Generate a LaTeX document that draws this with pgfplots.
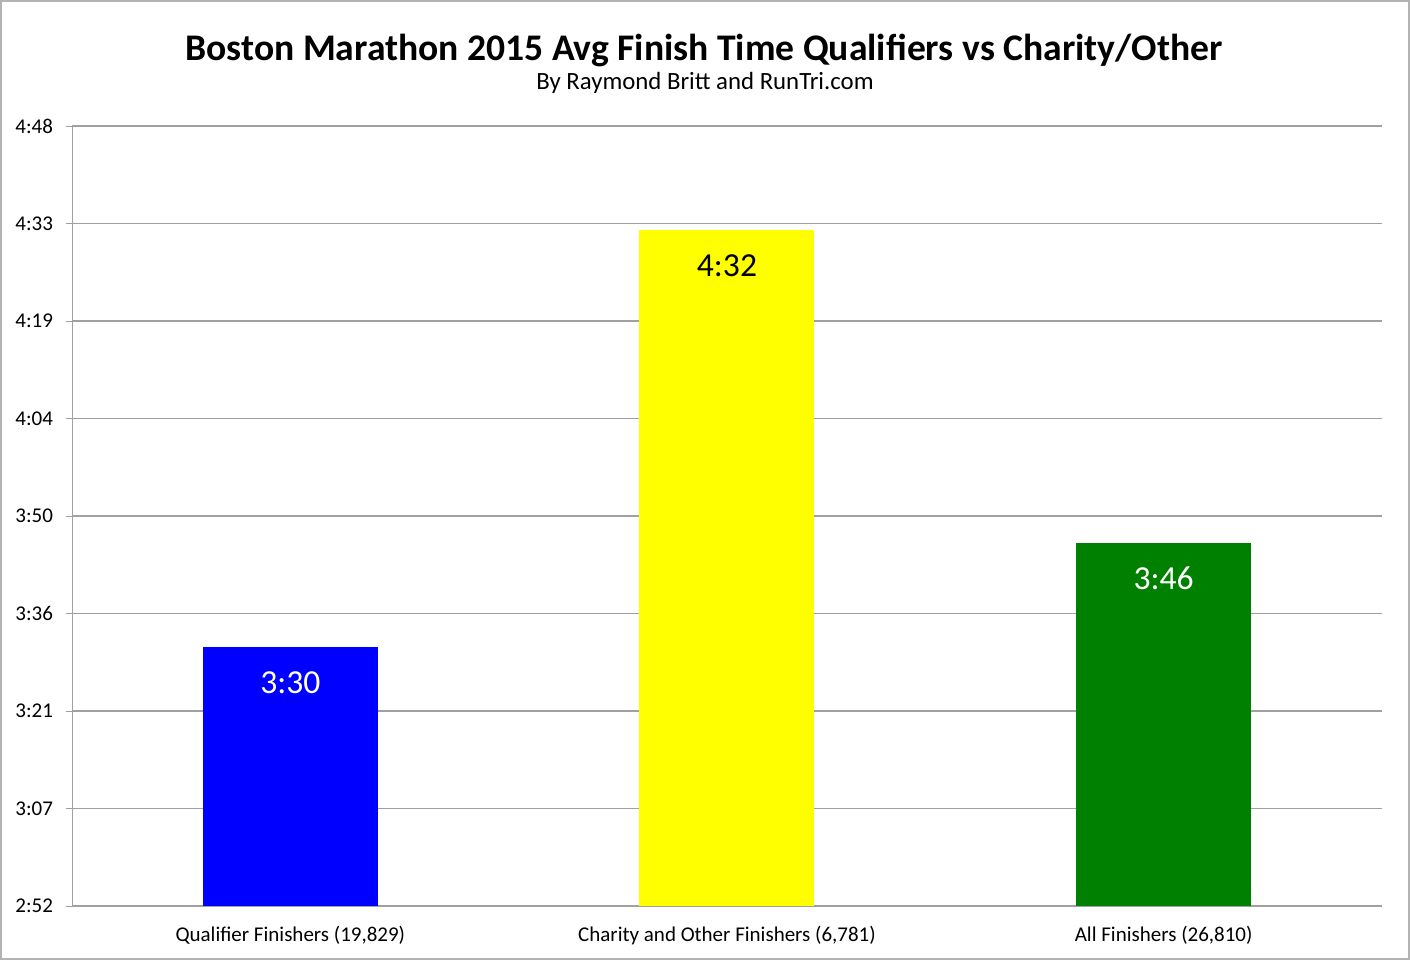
\documentclass[border=0pt]{standalone}
\usepackage{fontspec}
\setmainfont{Carlito}
\usepackage{pgfplots}
\pgfplotsset{compat=1.18}

\definecolor{gridgray}{RGB}{160,160,160}
\definecolor{xlblue}{RGB}{0,0,255}
\definecolor{xlyellow}{RGB}{255,255,0}
\definecolor{xlgreen}{RGB}{0,128,0}

\begin{document}
\begin{tikzpicture}
\useasboundingbox (0,0) rectangle (705pt,480pt);
\draw[gridgray!80, line width=1pt] (0.5pt,0.5pt) rectangle (704.5pt,479.5pt);

\node[font=\fontsize{18.8}{22}\selectfont\bfseries] at (352pt,455pt)
  {Boston Marathon 2015 Avg Finish Time Qualifiers vs Charity/Other};
\node[font=\fontsize{12.4}{14}\selectfont] at (352.5pt,438.5pt)
  {By Raymond Britt and RunTri.com};

\begin{axis}[
    at={(36pt,27pt)}, anchor=south west,
    scale only axis,
    width=655pt, height=390pt,
    xmin=-0.5, xmax=2.5,
    ymin=172.8, ymax=288,
    ybar, bar width=87.5pt,
    axis line style={gridgray},
    axis x line*=bottom, axis y line*=left,
    tick align=outside,
    major tick length=3pt,
    tick style={gridgray},
    ytick={172.8,187.2,201.6,216,230.4,244.8,259.2,273.6,288},
    yticklabels={2:52,3:07,3:21,3:36,3:50,4:04,4:19,4:33,4:48},
    ymajorgrids,
    grid style={gridgray, line width=0.6pt},
    xtick={0,1,2},
    xticklabels={Qualifier Finishers (19{,}829),Charity and Other Finishers (6{,}781),All Finishers (26{,}810)},
    xtick style={draw=none},
    extra x ticks={-0.5,0.5,1.5,2.5},
    extra x tick labels={},
    extra x tick style={tick style={gridgray}, grid=none, major tick length=3pt},
    ticklabel style={font=\fontsize{10.5}{12}\selectfont},
    yticklabel style={xshift=-3pt},
    xticklabel style={yshift=-3.5pt},
    point meta=explicit symbolic,
    nodes near coords,
    every node near coord/.append style={anchor=center, yshift=-17.5pt,
      font=\fontsize{16.8}{19}\selectfont},
]
\addplot[fill=xlblue, draw=none, bar shift=0pt,
  every node near coord/.append style={text=white}]
  coordinates {(0,211) [3:30]};
\addplot[fill=xlyellow, draw=none, bar shift=0pt,
  every node near coord/.append style={text=black}]
  coordinates {(1,272.6) [4:32]};
\addplot[fill=xlgreen, draw=none, bar shift=0pt,
  every node near coord/.append style={text=white}]
  coordinates {(2,226.4) [3:46]};
\end{axis}
\end{tikzpicture}
\end{document}
